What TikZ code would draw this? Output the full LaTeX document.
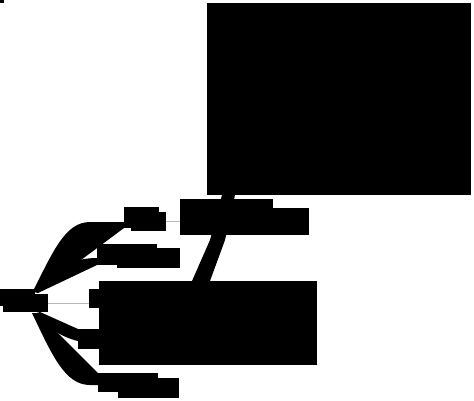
\documentclass[tikz,border=0pt]{standalone}
\usetikzlibrary{calc}
\definecolor{linkgray}{gray}{0.72}

\tikzset{
  redact/.style={fill=black, inner sep=0pt, outer sep=0pt, anchor=north west},
  band/.style={fill=black},
  link/.style={draw=linkgray, line width=0.8pt}
}

\begin{document}
\begin{tikzpicture}[x=1pt, y=-1pt]
\useasboundingbox (0,0) rectangle (474,400);

% corner mark and preview panel
\node[redact, minimum width=4, minimum height=3] (mark) at (0,0) {};
\node[redact, minimum width=264, minimum height=192] (preview) at (207,3) {};

% root
\node[redact, minimum width=35, minimum height=17] (roottop) at (0,289) {};
\node[redact, minimum width=45, minimum height=18] (root) at (3,294) {};

% first level
\node[redact, minimum width=35, minimum height=21] (ntop) at (124,207) {};
\node[redact, minimum width=35, minimum height=19] (nmain) at (131,212) {};
\node[redact, minimum width=60, minimum height=21] (ctop) at (97,244) {};
\node[redact, minimum width=63, minimum height=20] (cmain) at (117,248) {};
\node[redact, minimum width=10, minimum height=19] (etab) at (89,289) {};
\node[redact, minimum width=21, minimum height=20] (ftab) at (78,329) {};
\node[redact, minimum width=60, minimum height=19] (dtop) at (98,373) {};
\node[redact, minimum width=61, minimum height=20] (dmain) at (118,378) {};

% second level
\node[redact, minimum width=93, minimum height=9] (atop) at (180,199) {};
\node[redact, minimum width=129, minimum height=27] (amain) at (180,208) {};
\node[redact, minimum width=218, minimum height=84] (detail) at (99,281) {};

% thin links
\draw[link] (nmain.east) -- (nmain.east -| amain.west); %n to a
\draw[link] (root.east) -- (root.east -| etab.west); %root to e

% thick branches
\fill[band] (33,291) .. controls (53,252) and (65,222) .. (90,222)
  -- ($(ntop.south west)+(0,-6)$) -- (ntop.south west) -- (38,292) -- cycle; %root to n
\fill[band] (34,292) .. controls (55,270) and (70,258) .. (97,258)
  -- (ctop.south west) -- (38,293) -- cycle; %root to c
\fill[band] (40,312) -- (ftab.north west) -- ($(ftab.west)+(0,2)$)
  .. controls (60,337) and (45,325) .. (33,314) -- cycle; %root to f
\fill[band] (32,313) .. controls (52,355) and (65,385) .. (90,385)
  -- ($(dtop.north west)+(0,12)$) -- (dtop.north west) -- (38,313) -- cycle; %root to d
\fill[band] ($(preview.south west)+(15,0)$) -- ($(preview.south west)+(28,0)$)
  -- (225,240) -- ($(detail.north west)+(111,0)$) -- ($(detail.north west)+(93,0)$)
  -- (210,240) -- cycle; %preview to detail
\end{tikzpicture}
\end{document}
